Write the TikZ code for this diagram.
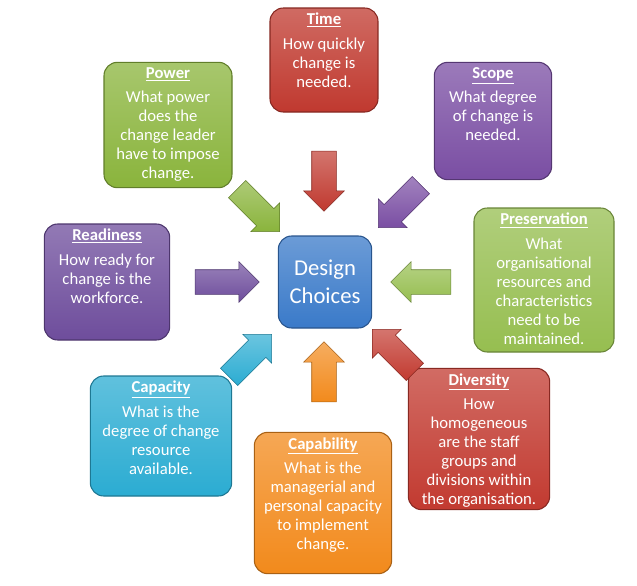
\documentclass[tikz,border=0pt]{standalone}
\usepackage{fontspec}
\setmainfont{Carlito}
\usetikzlibrary{shapes.arrows,positioning}
\definecolor{timered}{HTML}{C0392F}
\definecolor{powergreen}{HTML}{8AB43C}
\definecolor{scopepurple}{HTML}{7A4EA3}
\definecolor{readypurple}{HTML}{6E4D9C}
\definecolor{presgreen}{HTML}{96BE50}
\definecolor{capcyan}{HTML}{2BACD2}
\definecolor{capborange}{HTML}{F28A1C}
\definecolor{divred}{HTML}{C23A30}
\definecolor{designblue}{HTML}{3A7AC9}
\tikzset{
  box/.style={rounded corners=10pt, draw=#1!70!black, line width=0.8pt,
    top color=#1!75!white, bottom color=#1, inner sep=0pt},
  boxtext/.style={text=white, align=center, font=\fontsize{12.5}{14.3}\selectfont,
    below=3pt, inner sep=1pt},
  bigarrow/.style={single arrow, draw=#1!70!black, top color=#1!70!white, bottom color=#1,
    minimum height=45pt, inner sep=9pt, single arrow head extend=6pt,
    single arrow tip angle=90},
}
\newcommand{\boxtitle}[1]{\underline{\textbf{#1}}\\[4pt]}
\begin{document}
\begin{tikzpicture}[x=0.75pt,y=-0.75pt]
\useasboundingbox (0,0) rectangle (637,586);

\node[box=timered, minimum width=81pt, minimum height=78pt] (time) at (324,60) {};
\node[boxtext] (timet) at (time.north) {\boxtitle{Time}How quickly\\change is\\needed.};

\node[box=powergreen, minimum width=96pt, minimum height=94pt] (power) at (168,125) {};
\node[boxtext] (powert) at (power.north) {\boxtitle{Power}What power\\does the\\change leader\\have to impose\\change.};

\node[box=scopepurple, minimum width=88pt, minimum height=88pt] (scope) at (493,121) {};
\node[boxtext] (scopet) at (scope.north) {\boxtitle{Scope}What degree\\of change is\\needed.};

\node[box=readypurple, minimum width=94pt, minimum height=87pt] (ready) at (107,282) {};
\node[boxtext] (readyt) at (ready.north) {\boxtitle{Readiness}How ready for\\change is the\\workforce.};

\node[box=designblue, minimum width=70pt, minimum height=69pt, align=center, text=white,
  font=\fontsize{17}{21}\selectfont] (design) at (325,282) {Design\\Choices};

\node[box=presgreen, minimum width=105pt, minimum height=108pt] (pres) at (544,280) {};
\node[boxtext] (prest) at (pres.north) {\boxtitle{Preservation}What\\organisational\\resources and\\characteristics\\need to be\\maintained.};

\node[box=capcyan, minimum width=106pt, minimum height=90pt] (capac) at (161,436) {};
\node[boxtext] (capact) at (capac.north) {\boxtitle{Capacity}What is the\\degree of change\\resource\\available.};

\node[box=capborange, minimum width=103pt, minimum height=106pt] (capab) at (323,503) {};
\node[boxtext] (capabt) at (capab.north) {\boxtitle{Capability}What is the\\managerial and\\personal capacity\\to implement\\change.};

\node[box=divred, minimum width=106pt, minimum height=106pt] (div) at (479,439) {};
\node[boxtext] (divt) at (div.north) {\boxtitle{Diversity}How\\homogeneous\\are the staff\\groups and\\divisions within\\the organisation.};

% arrows towards the centre
\node[bigarrow=timered, rotate=-90] (atime) at (324,175) {};
\node[bigarrow=powergreen, rotate=-45] (apower) at (254,206) {};
\node[bigarrow=scopepurple, rotate=-135] (ascope) at (404,202) {};
\node[bigarrow=readypurple, minimum height=48pt] (aready) at (221,282) {};
\node[bigarrow=presgreen, rotate=180] (apres) at (427,282) {};
\node[bigarrow=capcyan, rotate=45] (acapac) at (246,360) {};
\node[bigarrow=capborange, rotate=90] (acapab) at (324,378) {};
\node[bigarrow=divred, rotate=135] (adiv) at (398,355) {};
\end{tikzpicture}
\end{document}
